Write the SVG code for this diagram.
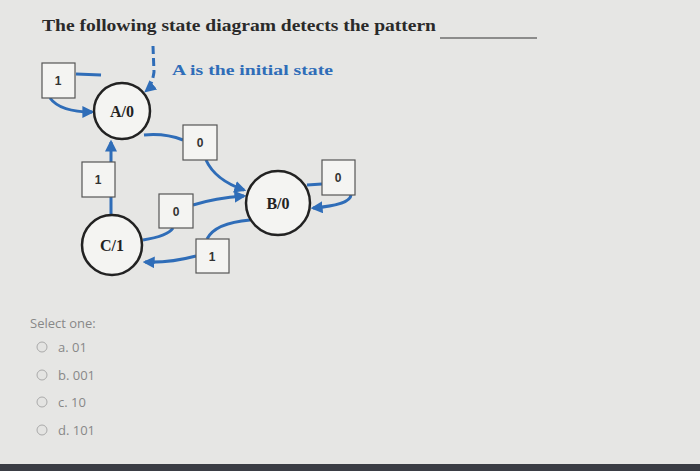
<svg xmlns="http://www.w3.org/2000/svg" width="700" height="471" viewBox="0 0 700 471">
<defs>
<marker id="ar" viewBox="0 0 10 10" refX="8" refY="5" markerWidth="4" markerHeight="4" orient="auto"><path d="M0,0L10,5L0,10z" fill="#2f6db8"/></marker>
<style>
.st{fill:#f4f4f2;stroke:#222;stroke-width:2.5}
.sl{font:bold 16px "Liberation Serif",serif;fill:#222;text-anchor:middle}
.bx{fill:#f4f4f2;stroke:#555;stroke-width:1.2}
.bl{font:bold 12px "Liberation Sans",sans-serif;fill:#333;text-anchor:middle}
.e{fill:none;stroke:#2f6db8;stroke-width:3}
.op{font:13px "Open Sans",sans-serif;fill:#888}
.rd{fill:#e4e4e2;stroke:#aaa;stroke-width:1}
</style>
</defs>
<rect width="700" height="471" fill="#e6e6e4"/>
<rect x="0" y="464" width="700" height="7" fill="#3a3d44"/>
<text x="42" y="31" textLength="394" lengthAdjust="spacingAndGlyphs" style="font:bold 16px 'Liberation Serif',serif;fill:#2a2a2a">The following state diagram detects the pattern</text>
<line x1="440" y1="38" x2="537" y2="38" stroke="#333" stroke-width="1.2"/>
<text x="172" y="75" textLength="161" lengthAdjust="spacingAndGlyphs" style="font:bold 15px 'Liberation Serif',serif;fill:#2f6db8">A is the initial state</text>
<g id="connectors">
<path class="e" d="M153,46 L154,72 Q152,86 146,91" stroke-dasharray="8,4" marker-end="url(#ar)"/>
<path class="e" d="M76,74 L101,75"/>
<path class="e" d="M50,98 Q60,112 92,112" marker-end="url(#ar)"/>
<path class="e" d="M144,135 Q165,133 183,140"/>
<path class="e" d="M206,160 Q215,180 244,190" marker-end="url(#ar)"/>
<path class="e" d="M111,214 L111,197"/>
<path class="e" d="M111,162 L111,142" marker-end="url(#ar)"/>
<path class="e" d="M143,240 Q168,236 173,228"/>
<path class="e" d="M193,205 Q215,198 244,196" marker-end="url(#ar)"/>
<path class="e" d="M250,220 Q215,223 207,239"/>
<path class="e" d="M196,256 Q170,263 145,262" marker-end="url(#ar)"/>
<path class="e" d="M307,185 L322,184"/>
<path class="e" d="M351,195 Q350,205 313,208" marker-end="url(#ar)"/>
</g>
<g id="A"><circle class="st" cx="122" cy="111" r="28"/><text class="sl" x="122" y="117">A/0</text></g>
<g id="B"><circle class="st" cx="278" cy="203" r="32"/><text class="sl" x="278" y="209">B/0</text></g>
<g id="C"><circle class="st" cx="112" cy="245" r="30"/><text class="sl" x="112" y="251">C/1</text></g>
<g id="l1"><rect class="bx" x="42" y="63" width="33" height="35"/><text class="bl" x="58" y="85">1</text></g>
<g id="l2"><rect class="bx" x="183" y="125" width="34" height="35"/><text class="bl" x="200" y="147">0</text></g>
<g id="l3"><rect class="bx" x="82" y="162" width="33" height="35"/><text class="bl" x="98" y="184">1</text></g>
<g id="l4"><rect class="bx" x="322" y="160" width="33" height="35"/><text class="bl" x="338" y="182">0</text></g>
<g id="l5"><rect class="bx" x="159" y="194" width="34" height="34"/><text class="bl" x="176" y="216">0</text></g>
<g id="l6"><rect class="bx" x="196" y="239" width="33" height="34"/><text class="bl" x="212" y="261">1</text></g>
<text class="op" x="30" y="328">Select one:</text>
<circle class="rd" cx="42" cy="347" r="5"/><text class="op" x="58" y="352">a. 01</text>
<circle class="rd" cx="42" cy="375" r="5"/><text class="op" x="58" y="380">b. 001</text>
<circle class="rd" cx="42" cy="402" r="5"/><text class="op" x="58" y="407">c. 10</text>
<circle class="rd" cx="42" cy="430" r="5"/><text class="op" x="58" y="435">d. 101</text>
</svg>
